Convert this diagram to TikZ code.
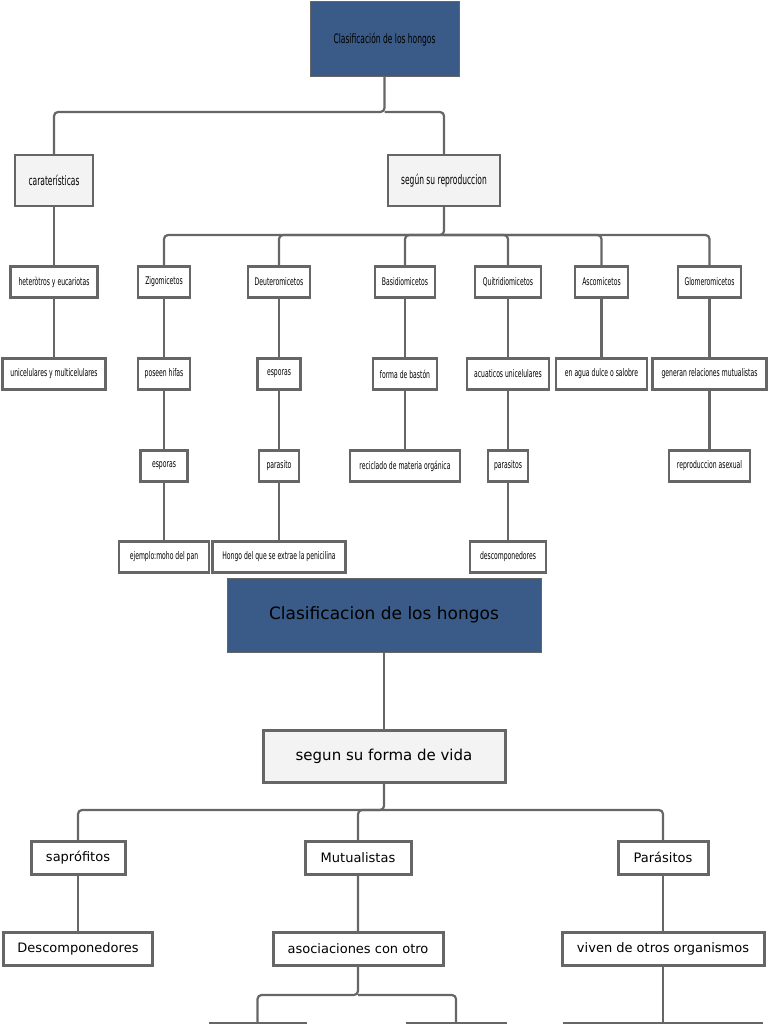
\documentclass[tikz,border=0pt]{standalone}
\usepackage{fontspec}
\setmainfont{DejaVu Sans}
\usepackage{graphicx}
\definecolor{navy}{HTML}{3A5A87}
\definecolor{edge}{HTML}{666666}
\definecolor{lite}{HTML}{F3F3F3}
\newcommand\nt[1]{\scalebox{0.58}[1]{#1}}
\begin{document}
\begin{tikzpicture}[x=1pt,y=-1pt,
 sb/.style={draw=edge,line width=2.5pt,fill=white,inner sep=0pt,minimum height=31pt,font=\fontsize{10.5}{12}\selectfont},
 lb/.style={draw=edge,line width=3pt,fill=white,inner sep=0pt,minimum height=33pt,font=\fontsize{13}{15}\selectfont},
 tb/.style={draw=edge,line width=1pt,fill=navy,text=black,inner sep=0pt},
 ln/.style={draw=edge,line width=2.2pt,rounded corners=4pt}]
\useasboundingbox (0,0) rectangle (768,1024);
\begin{scope}
\clip (0,0) rectangle (768,1024);
\def\ra{282}\def\rb{374}\def\rc{466}\def\rd{557}
% connectors first (drawn under nodes)
\coordinate (tS) at (384.5,77);
\draw[ln] (tS) -- (384.5,112) -| (54,155);
\draw[ln] (384.5,112) -| (444,155);
\draw[ln] (444,206) -- (444,235) -| (164,266);
\foreach \x in {279,405,508,601.5,709.5} \draw[ln] (444,235) -| (\x,266);
\draw[ln] (54,206) -- (54,\rb);
\draw[ln] (164,\ra) -- (164,\rd);
\draw[ln] (279,\ra) -- (279,\rd);
\draw[ln] (405,\ra) -- (405,\rc);
\draw[ln] (508,\ra) -- (508,\rd);
\draw[ln] (601.5,\ra) -- (601.5,\rb);
\draw[ln] (709.5,\ra) -- (709.5,\rc);
\draw[ln] (384,652) -- (384,730);
\draw[ln] (384,782) -- (384,810) -| (78,850);
\draw[ln] (384,810) -| (358,850);
\draw[ln] (384,810) -| (663,850);
\draw[ln] (78,857) -- (78,948);
\draw[ln] (358,857) -- (358,995) -| (257.5,1022);
\draw[ln] (358,995) -| (456,1022);
\draw[ln] (663,857) -- (663,1022);
% top part
\node[tb,minimum width=149pt,minimum height=75pt,font=\fontsize{13}{15}\selectfont] (t) at (384.5,39.5) {\nt{Clasificación de los hongos}};
\node[sb,fill=lite,minimum width=78pt,minimum height=51pt,font=\fontsize{13}{15}\selectfont] (car) at (54,180.5) {\nt{caraterísticas}};
\node[sb,fill=lite,minimum width=112pt,minimum height=51pt,font=\fontsize{13}{15}\selectfont] (rep) at (444,180.5) {\nt{según su reproduccion}};
\node[sb,minimum width=87pt] (h) at (54,\ra) {\nt{heteròtros y eucariotas}};
\node[sb,minimum width=52pt] (z) at (164,\ra) {\nt{Zigomicetos}};
\node[sb,minimum width=62pt] (d) at (279,\ra) {\nt{Deuteromicetos}};
\node[sb,minimum width=60pt] (b) at (405,\ra) {\nt{Basidiomicetos}};
\node[sb,minimum width=66pt] (q) at (508,\ra) {\nt{Quitridiomicetos}};
\node[sb,minimum width=53pt] (a) at (601.5,\ra) {\nt{Ascomicetos}};
\node[sb,minimum width=63pt] (g) at (709.5,\ra) {\nt{Glomeromicetos}};
\node[sb,minimum width=103pt] (u) at (54,\rb) {\nt{unicelulares y multicelulares}};
\node[sb,minimum width=52pt] (ph) at (164,\rb) {\nt{poseen hifas}};
\node[sb,minimum width=43pt] (de) at (279,\rb) {\nt{esporas}};
\node[sb,minimum width=64pt] (fb) at (405,\rb) {\nt{forma de bastón}};
\node[sb,minimum width=82pt] (au) at (508,\rb) {\nt{acuaticos unicelulares}};
\node[sb,minimum width=91pt] (ad) at (601.5,\rb) {\nt{en agua dulce o salobre}};
\node[sb,minimum width=114pt] (gr) at (709.5,\rb) {\nt{generan relaciones mutualistas}};
\node[sb,minimum width=47pt] (ze) at (164,\rc) {\nt{esporas}};
\node[sb,minimum width=40pt] (dp) at (279,\rc) {\nt{parasito}};
\node[sb,minimum width=110pt] (rm) at (405,\rc) {\nt{reciclado de materia orgánica}};
\node[sb,minimum width=40pt] (qp) at (508,\rc) {\nt{parasitos}};
\node[sb,minimum width=81pt] (ra) at (709.5,\rc) {\nt{reproduccion asexual}};
\node[sb,minimum width=90pt] (em) at (164,\rd) {\nt{ejemplo:moho del pan}};
\node[sb,minimum width=133pt] (hp) at (279,\rd) {\nt{Hongo del que se extrae la penicilina}};
\node[sb,minimum width=76pt] (dc) at (508,\rd) {\nt{descomponedores}};
% bottom part
\node[tb,minimum width=314pt,minimum height=74pt,font=\fontsize{17}{20}\selectfont] (t2) at (384,615) {Clasificacion de los hongos};
\node[lb,fill=lite,minimum width=242pt,minimum height=52pt,font=\fontsize{15}{18}\selectfont] (fv) at (384,756) {segun su forma de vida};
\node[lb,minimum width=94pt] (sa) at (78,857.5) {saprófitos};
\node[lb,minimum width=106pt] (mu) at (358,857.5) {Mutualistas};
\node[lb,minimum width=90pt] (pa) at (663,857.5) {Parásitos};
\node[lb,minimum width=149pt] (dco) at (78,948.5) {Descomponedores};
\node[lb,minimum width=170pt] (as) at (358,948.5) {asociaciones con otro};
\node[lb,minimum width=202pt] (vi) at (663,948.5) {viven de otros organismos};
\node[lb,minimum width=95pt,anchor=north] (c1) at (257.5,1022) {};
\node[lb,minimum width=98pt,anchor=north] (c2) at (456,1022) {};
\node[lb,minimum width=197pt,anchor=north] (c3) at (663,1022) {};
\end{scope}
\end{tikzpicture}
\end{document}
